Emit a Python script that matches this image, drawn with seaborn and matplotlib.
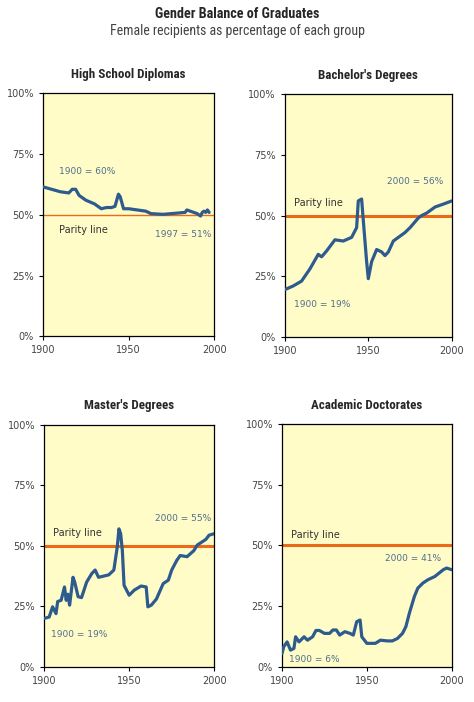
import pandas as pd
import matplotlib.pyplot as plt
import seaborn as sns

# values (percent female)
hs_years = [1900, 1905, 1910, 1915, 1917, 1919, 1921, 1925, 1930, 1934, 1937, 1940, 1942, 1943, 1944,
            1945, 1946, 1947, 1950, 1955, 1960, 1963, 1970, 1975, 1980, 1983, 1984, 1986, 1988, 1990,
            1992, 1993, 1994, 1995, 1996, 1997]
hs_vals = [61.5, 60.5, 59.5, 59, 60.5, 60.5, 58, 56, 54.5, 52.5, 53, 53, 53.5, 56, 58.5,
           57.5, 55, 52.5, 52.5, 52, 51.5, 50.5, 50.2, 50.5, 50.8, 51, 52, 51.5, 51, 50.5,
           49.5, 51, 51.5, 51, 52, 51]

ba_years = [1900, 1905, 1910, 1915, 1920, 1922, 1925, 1930, 1935, 1940, 1943, 1944, 1946, 1947,
            1949, 1950, 1952, 1955, 1958, 1960, 1962, 1965, 1968, 1972, 1975, 1980, 1982, 1985,
            1990, 1995, 2000]
ba_vals = [19.5, 21, 23, 28, 34, 33, 35.4, 40, 39.5, 41, 45, 56, 56.8, 48,
           31, 24, 31, 36, 35, 33.5, 35, 39.5, 41, 43, 45, 49, 50, 51,
           53.5, 54.7, 56]

ma_years = [1900, 1903, 1905, 1907, 1908, 1910, 1912, 1913, 1914, 1915, 1917, 1918, 1920, 1922,
            1925, 1928, 1930, 1932, 1938, 1941, 1943, 1944, 1945, 1946, 1947, 1950, 1953, 1957,
            1960, 1961, 1963, 1966, 1970, 1973, 1975, 1978, 1980, 1984, 1988, 1990, 1995, 1997, 2000]
ma_vals = [20, 20.6, 24.8, 22, 27, 27.5, 33, 27.5, 30, 25.5, 37, 35, 29, 28.6,
           35, 38.5, 40, 37, 38, 40, 49.5, 57, 55, 48, 33.7, 29.6, 31.7, 33.4,
           33, 24.8, 25.5, 28, 34.4, 35.8, 40, 44, 46, 45.5, 48, 50.3, 52.6, 54.4, 55]

phd_years = [1900, 1901, 1903, 1905, 1907, 1908, 1910, 1912, 1913, 1915, 1918, 1920, 1922, 1925,
             1928, 1930, 1932, 1934, 1937, 1940, 1942, 1944, 1946, 1947, 1950, 1955, 1958, 1962,
             1965, 1968, 1971, 1973, 1975, 1978, 1980, 1983, 1986, 1990, 1995, 1997, 2000]
phd_vals = [5.5, 8.3, 10.3, 6.9, 7.6, 12.4, 10.3, 11.7, 12.4, 11, 12.4, 15, 15, 13.8,
            13.8, 15.2, 15.2, 13.1, 14.5, 13.8, 13.1, 18.6, 19.3, 12.4, 9.7, 9.7, 11, 10.7,
            10.7, 11.7, 13.8, 16.6, 22, 29, 32.4, 34.5, 35.9, 37.2, 40, 40.7, 40]

panel_titles = ["High School Diplomas", "Bachelor's Degrees", "Master's Degrees", "Academic Doctorates"]
start_labels = ["1900 = 60%", "1900 = 19%", "1900 = 19%", "1900 = 6%"]
end_labels = ["1997 = 51%", "2000 = 56%", "2000 = 55%", "2000 = 41%"]

series = [(hs_years, hs_vals), (ba_years, ba_vals), (ma_years, ma_vals), (phd_years, phd_vals)]

# label spots (x, y) in data units
start_pos = [(1909, 68), (1905.5, 13.3), (1904, 13.3), (1904, 3)]
end_pos = [(1998.5, 42), (1995, 64), (1998.5, 61.3), (1994, 44.8)]
parity_pos = [(1909, 43.7), (1905.5, 55), (1905, 55.1), (1905, 54.4)]
parity_lw = [1.0, 2.2, 2.2, 2.2]

sns.set_style("ticks")
narrow = ["Roboto Condensed", "Archivo Narrow", "Liberation Sans Narrow", "DejaVu Sans"]

bg = "#FFFCC8"
line_col = "#2D5B8E"
parity_col = "#EC6A17"
note_col = "#4F6E8E"

fig = plt.figure(figsize=(4.74, 7.02), dpi=100)
boxes = [[0.091, 0.521, 0.361, 0.346], [0.601, 0.520, 0.352, 0.346],
         [0.093, 0.050, 0.359, 0.345], [0.595, 0.050, 0.358, 0.346]]

for i, (yrs, vals) in enumerate(series):
    ax = fig.add_axes(boxes[i])
    ax.set_facecolor(bg)
    df = pd.DataFrame({"year": yrs, "pct": vals})
    ax.axhline(50, color=parity_col, lw=parity_lw[i], zorder=2)
    sns.lineplot(data=df, x="year", y="pct", ax=ax, color=line_col, lw=2.3, zorder=3)
    ax.set_xlim(1900, 2000)
    ax.set_ylim(0, 100)
    ax.set_xticks([1900, 1950, 2000])
    ax.set_yticks([0, 25, 50, 75, 100])
    ax.set_yticklabels(["0%", "25%", "50%", "75%", "100%"])
    ax.set_xlabel("")
    ax.set_ylabel("")
    ax.tick_params(labelsize=7, colors="black", labelcolor="#444444", length=3, width=0.8)
    for s in ax.spines.values():
        s.set_visible(True)
        s.set_linewidth(0.9)
        s.set_color("black")
    ax.set_title(panel_titles[i], fontsize=9.4, fontweight="bold", family=narrow, pad=11)
    ax.text(*start_pos[i], start_labels[i], fontsize=6.5, color=note_col, va="center", ha="left")
    ax.text(*end_pos[i], end_labels[i], fontsize=6.5, color=note_col, va="center", ha="right")
    ax.text(*parity_pos[i], "Parity line", fontsize=7, color="#333333", va="center", ha="left")

fig.text(0.5, 0.980, "Gender Balance of Graduates", ha="center", va="center",
         fontsize=10.2, fontweight="bold", family=narrow)
fig.text(0.5, 0.956, "Female recipients as percentage of each group", ha="center", va="center",
         fontsize=10, color="#444444", family=narrow)

fig.savefig("out.png", dpi=100, facecolor="white")
